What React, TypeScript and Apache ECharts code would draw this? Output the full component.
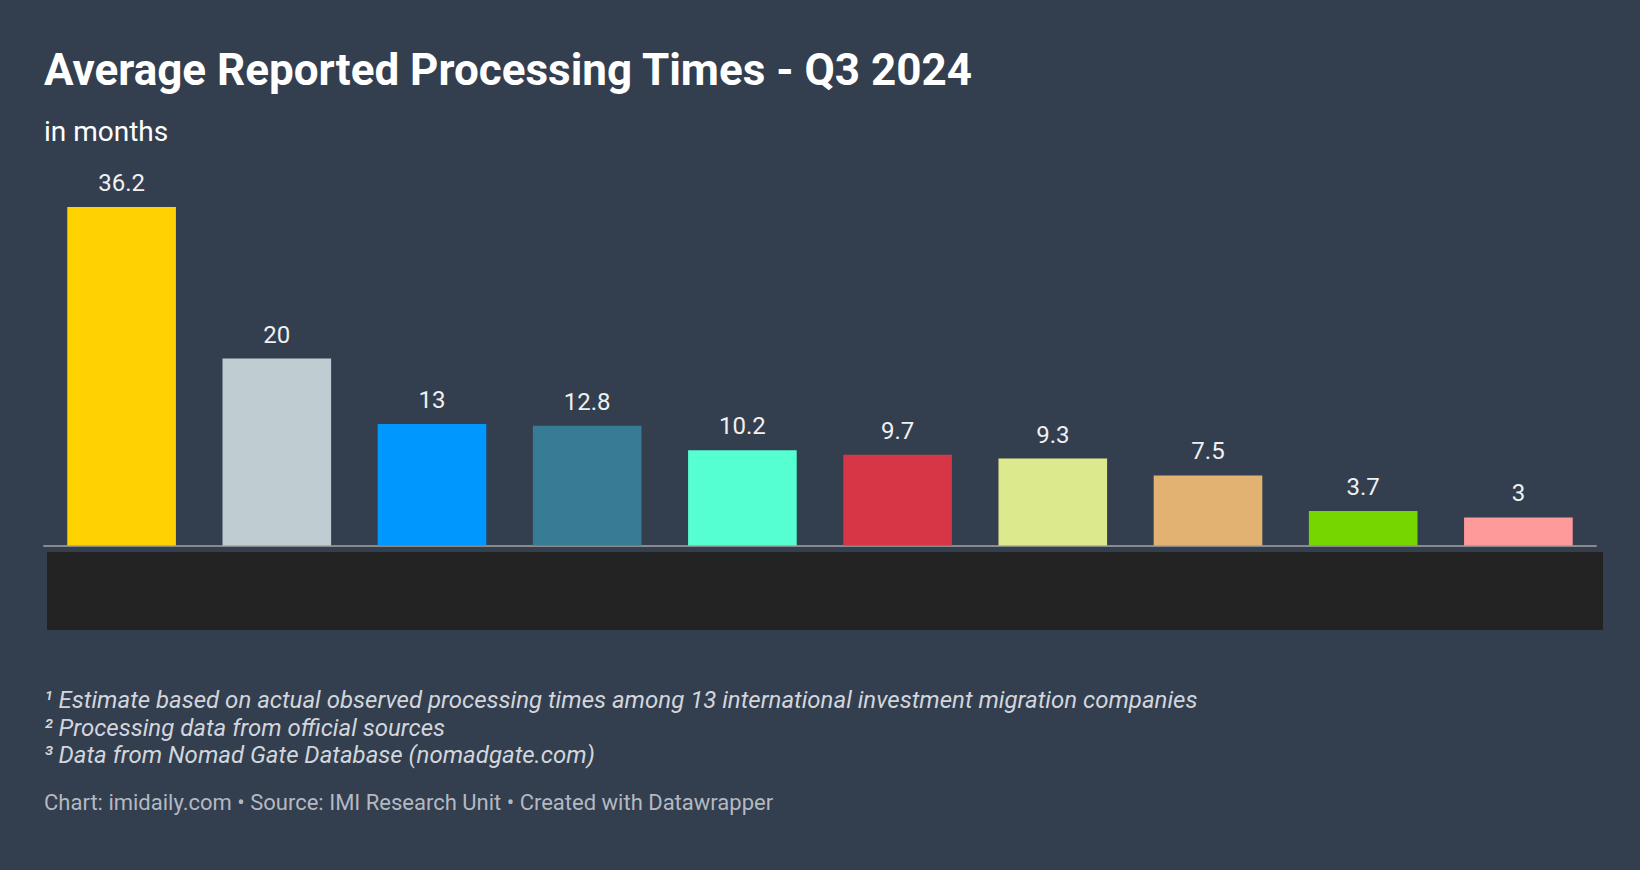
import React, { useEffect, useRef } from "react";
import * as echarts from "echarts";

// Average processing time per programme, in months (category names are not shown on the chart)
const categories = ["1", "2", "3", "4", "5", "6", "7", "8", "9", "10"];
const months = [36.2, 20, 13, 12.8, 10.2, 9.7, 9.3, 7.5, 3.7, 3];
const barColors = [
  "#ffd200",
  "#bfccd1",
  "#0098ff",
  "#387b94",
  "#55ffd2",
  "#d73646",
  "#dce98c",
  "#e2b273",
  "#75d600",
  "#ff9a9a",
];

const titleText = "Average Reported Processing Times - Q3 2024";
const subtitleText = "in months";
const notes = [
  "¹ Estimate based on actual observed processing times among 13 international investment migration companies",
  "² Processing data from official sources",
  "³ Data from Nomad Gate Database (nomadgate.com)",
];
const footerText = "Chart: imidaily.com • Source: IMI Research Unit • Created with Datawrapper";

const FONT = "Roboto, 'Noto Sans', sans-serif";

export default function App() {
  const ref = useRef<HTMLDivElement>(null);

  useEffect(() => {
    if (!ref.current) return;
    const chart = echarts.init(ref.current, null, { renderer: "svg" });

    const option = {
      animation: false,
      backgroundColor: "#333e4f",
      textStyle: { fontFamily: FONT },
      grid: { left: 44, right: 44, top: 171.6, bottom: 324.5, containLabel: false },
      xAxis: {
        type: "category",
        data: categories,
        axisLine: { show: true, lineStyle: { color: "#8a8a8a", width: 2 } },
        axisTick: { show: false },
        axisLabel: { show: false },
      },
      yAxis: {
        type: "value",
        min: 0,
        max: 40,
        show: false,
        splitLine: { show: false },
      },
      series: [
        {
          type: "bar",
          barCategoryGap: "30%",
          data: months.map((v, i) => ({ value: v, itemStyle: { color: barColors[i] } })),
          label: {
            show: true,
            position: "top",
            distance: 12,
            color: "#f0f0f0",
            fontSize: 24,
            fontFamily: FONT,
          },
        },
      ],
      graphic: [
        {
          type: "text",
          left: 44,
          top: 48,
          style: {
            text: titleText,
            fill: "#ffffff",
            font: `bold 44px ${FONT}`,
          },
        },
        {
          type: "text",
          left: 44,
          top: 117,
          style: {
            text: subtitleText,
            fill: "#ffffff",
            font: `28px ${FONT}`,
          },
        },
        {
          type: "rect",
          shape: { x: 47, y: 552, width: 1556, height: 78 },
          style: { fill: "#232323" },
        },
        ...notes.map((t, i) => ({
          type: "text",
          left: 44,
          top: 688 + i * 27.5,
          style: {
            text: t,
            fill: "#d2d6dc",
            font: `italic 24px ${FONT}`,
          },
        })),
        {
          type: "text",
          left: 44,
          top: 791,
          style: {
            text: footerText,
            fill: "#b4b9c1",
            font: `22px ${FONT}`,
          },
        },
      ],
    };

    chart.setOption(option);
    return () => chart.dispose();
  }, []);

  return (
    <div
      ref={ref}
      style={{ position: "fixed", left: 0, top: 0, width: 1640, height: 870 }}
    />
  );
}
